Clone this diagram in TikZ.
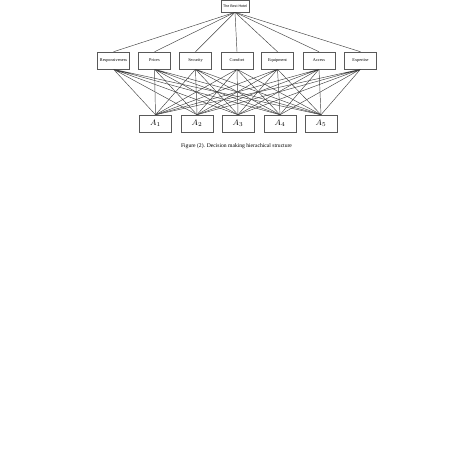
\documentclass[tikz,border=0pt]{standalone}
\usepackage{fontspec}
\setmainfont{Liberation Serif}
\setsansfont{Liberation Sans}
\usetikzlibrary{positioning}

\begin{document}
\begin{tikzpicture}[
      % GLOBAL CFG
      x=1pt, y=-1pt,
      font=\rmfamily,
      % Styles
      goal/.style={% For the goal
        rectangle,
        draw=black!65,
        line width=0.5pt,
        minimum width=28pt,
        minimum height=12pt,
        inner sep=0pt,
        font=\sffamily\fontsize{3.6}{4}\selectfont
      },
      crit/.style={% For the criteria
        rectangle,
        draw=black!65,
        line width=0.5pt,
        minimum width=32pt,
        minimum height=17pt,
        inner sep=0pt,
        font=\fontsize{4.3}{5}\selectfont
      },
      alt/.style={% For the alternatives
        rectangle,
        draw=black!65,
        line width=0.5pt,
        minimum width=32pt,
        minimum height=17pt,
        inner sep=0pt,
        font=\fontsize{8.5}{9}\selectfont
      },
      link/.style={% Lines between levels
        black!75,
        line width=0.45pt
      }
      ]
      \useasboundingbox (0,0) rectangle (474,474);

      % Goal
      \node [goal] (goal) at (235,6){The Best Hotel} ;

      % Criteria
      \node [crit] (crit1) at (113.5,60.5){Responsiveness} ;
      \node [crit] (crit2) at (154.5,60.5){Prices} ;
      \node [crit] (crit3) at (195.5,60.5){Security} ;
      \node [crit] (crit4) at (237,60.5){Comfort} ;
      \node [crit] (crit5) at (277.5,60.5){Equipment} ;
      \node [crit] (crit6) at (319,60.5){Access} ;
      \node [crit] (crit7) at (360.5,60.5){Expertise} ;

      % Alternatives
      \node [alt] (alt1) at (155.5,123.5){$A_1$} ;
      \node [alt] (alt2) at (197,123.5){$A_2$} ;
      \node [alt] (alt3) at (238,123.5){$A_3$} ;
      \node [alt] (alt4) at (280,123.5){$A_4$} ;
      \node [alt] (alt5) at (321,123.5){$A_5$} ;

      % Caption
      \node [font=\fontsize{5.6}{6}\selectfont] (caption) at (236.5,146){Figure (2). Decision making hierachical structure} ;

      % Goal to criteria
      \draw [link] (goal.south) -- (crit1.north);
      \draw [link] (goal.south) -- (crit2.north);
      \draw [link] (goal.south) -- (crit3.north);
      \draw [link] (goal.south) -- (crit4.north);
      \draw [link] (goal.south) -- (crit5.north);
      \draw [link] (goal.south) -- (crit6.north);
      \draw [link] (goal.south) -- (crit7.north);

      % Criteria to alternatives
      \draw [link] (crit1.south) -- (alt1.north) (crit1.south) -- (alt2.north) (crit1.south) -- (alt3.north) (crit1.south) -- (alt4.north) (crit1.south) -- (alt5.north);
      \draw [link] (crit2.south) -- (alt1.north) (crit2.south) -- (alt2.north) (crit2.south) -- (alt3.north) (crit2.south) -- (alt4.north) (crit2.south) -- (alt5.north);
      \draw [link] (crit3.south) -- (alt1.north) (crit3.south) -- (alt2.north) (crit3.south) -- (alt3.north) (crit3.south) -- (alt4.north) (crit3.south) -- (alt5.north);
      \draw [link] (crit4.south) -- (alt1.north) (crit4.south) -- (alt2.north) (crit4.south) -- (alt3.north) (crit4.south) -- (alt4.north) (crit4.south) -- (alt5.north);
      \draw [link] (crit5.south) -- (alt1.north) (crit5.south) -- (alt2.north) (crit5.south) -- (alt3.north) (crit5.south) -- (alt4.north) (crit5.south) -- (alt5.north);
      \draw [link] (crit6.south) -- (alt1.north) (crit6.south) -- (alt2.north) (crit6.south) -- (alt3.north) (crit6.south) -- (alt4.north) (crit6.south) -- (alt5.north);
      \draw [link] (crit7.south) -- (alt1.north) (crit7.south) -- (alt2.north) (crit7.south) -- (alt3.north) (crit7.south) -- (alt4.north) (crit7.south) -- (alt5.north);
    \end{tikzpicture}
\end{document}
